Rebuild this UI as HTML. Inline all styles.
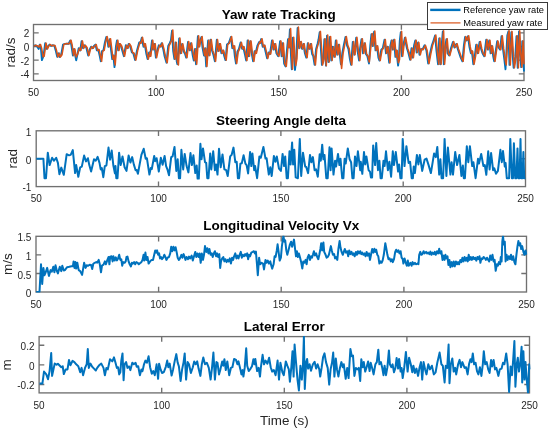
<!DOCTYPE html>
<html><head><meta charset="utf-8"><title>plot</title>
<style>html,body{margin:0;padding:0;background:#fff}svg{display:block}text{font-family:"Liberation Sans",sans-serif;fill:#262626}</style></head>
<body>
<svg width="550" height="429" viewBox="0 0 550 429">
<rect width="550" height="429" fill="#ffffff"/>
<g id="ax1">
<clipPath id="c0"><rect x="33.5" y="24.0" width="491.5" height="57.0"/></clipPath>
<rect x="33.5" y="24.5" width="490.5" height="56.0" fill="none" stroke="#707070" stroke-width="1.35"/>
<text x="33.5" y="96.1" font-size="10" text-anchor="middle">50</text>
<text x="156.1" y="96.1" font-size="10" text-anchor="middle">100</text>
<text x="278.8" y="96.1" font-size="10" text-anchor="middle">150</text>
<text x="401.4" y="96.1" font-size="10" text-anchor="middle">200</text>
<text x="524.0" y="96.1" font-size="10" text-anchor="middle">250</text>
<text x="29.4" y="37.2" font-size="10" text-anchor="end">2</text>
<text x="29.4" y="50.9" font-size="10" text-anchor="end">0</text>
<text x="29.4" y="64.5" font-size="10" text-anchor="end">-2</text>
<text x="29.4" y="78.2" font-size="10" text-anchor="end">-4</text>
<path d="M156.1,80.5v-5.2M156.1,24.5v5.2M278.8,80.5v-5.2M278.8,24.5v5.2M401.4,80.5v-5.2M401.4,24.5v5.2M33.5,32.8h5.2M524.0,32.8h-5.2M33.5,46.47h5.2M524.0,46.47h-5.2M33.5,60.13h5.2M524.0,60.13h-5.2M33.5,73.8h5.2M524.0,73.8h-5.2" stroke="#707070" stroke-width="1.35" fill="none"/>
<polyline clip-path="url(#c0)" points="33.6,46.4 35.1,45.3 36.8,46.0 38.7,48.9 39.7,44.6 40.9,48.2 41.9,60.1 43.5,56.2 45.2,43.2 46.7,48.9 48.2,46.0 49.6,44.6 51.1,46.0 52.5,45.3 54.3,45.6 55.7,50.4 57.2,56.9 58.6,53.3 59.8,56.9 61.2,54.7 63.0,44.6 64.9,43.9 66.8,43.7 68.5,43.9 70.3,40.5 71.4,45.3 72.9,55.5 74.0,48.9 75.5,56.9 76.2,60.4 78.7,48.2 80.2,50.4 81.6,41.2 83.1,48.2 84.5,45.3 86.3,47.5 88.2,55.5 89.6,49.6 91.1,46.7 92.5,48.2 94.0,46.0 95.4,44.6 96.9,50.4 98.3,49.6 99.8,56.2 100.8,61.3 102.0,51.1 103.4,50.4 104.9,42.5 106.3,37.0 107.8,42.5 108.3,46.7 109.8,39.1 111.2,51.1 112.2,59.1 113.3,55.5 114.5,67.1 115.9,46.7 117.0,40.5 118.2,50.4 119.5,43.9 121.0,46.0 122.4,51.1 123.9,56.2 125.8,45.3 127.2,48.2 128.7,43.9 130.1,46.0 131.9,52.5 133.3,53.3 135.1,60.1 137.0,50.4 139.2,42.5 140.3,43.2 141.8,37.7 143.5,46.7 144.7,43.9 146.4,54.0 147.6,59.1 149.1,52.5 150.1,56.2 152.0,40.5 153.0,49.6 154.4,43.9 155.9,57.6 157.3,50.4 158.8,45.3 160.2,46.7 161.7,43.2 163.2,48.9 164.6,56.2 166.5,62.7 168.2,46.0 169.7,43.2 170.9,40.5 172.0,30.8 173.2,51.1 174.4,59.1 175.5,42.5 176.7,61.3 177.4,64.2 179.2,38.4 180.6,53.3 182.1,43.9 183.5,51.1 185.1,54.0 186.2,57.6 188.0,41.9 189.4,50.4 190.9,43.2 192.6,54.7 193.8,60.5 195.0,48.9 196.0,64.2 197.9,36.3 198.9,46.7 199.9,41.2 201.4,37.0 202.5,47.5 204.0,55.5 205.1,48.2 206.2,66.4 208.1,40.5 209.1,55.5 210.5,39.8 212.0,50.4 213.4,54.7 214.9,61.3 216.8,39.8 218.2,51.1 219.7,43.9 221.4,53.3 222.9,50.4 224.3,56.2 225.5,60.1 227.0,44.6 228.7,43.2 230.9,37.0 232.3,48.2 233.8,46.0 234.8,56.2 236.0,63.5 237.4,51.8 238.9,48.9 240.6,42.5 242.1,48.9 243.2,46.7 245.0,54.7 246.2,60.5 247.6,40.5 248.8,56.2 250.2,41.2 251.7,53.3 253.1,61.3 254.6,51.1 255.6,53.3 257.5,45.3 259.2,41.9 259.8,43.2 261.2,39.1 262.7,46.7 264.1,45.3 265.6,51.8 267.1,58.4 268.5,52.5 270.0,54.0 272.0,40.5 273.4,49.6 274.9,43.9 276.4,53.3 278.2,56.2 280.1,41.2 281.6,56.2 282.6,43.2 284.1,63.5 285.5,66.4 287.0,49.6 288.0,39.1 288.9,47.5 289.9,29.4 290.9,54.0 291.8,69.3 292.9,37.7 293.8,53.3 295.0,70.0 296.1,59.1 297.6,28.0 299.1,48.2 300.5,41.9 302.0,48.9 303.4,43.9 304.9,53.3 306.3,57.6 307.8,43.2 309.2,48.9 310.7,43.9 312.1,54.0 313.2,56.2 314.6,64.9 316.1,48.9 317.5,43.9 318.5,39.8 319.7,32.2 320.9,48.9 321.9,64.9 323.3,59.1 324.4,39.1 326.0,65.6 327.0,35.6 328.4,62.0 329.9,37.0 331.3,60.5 332.8,46.7 333.3,53.3 334.3,56.9 335.8,40.5 337.2,54.7 338.7,44.6 340.9,64.2 342.3,53.3 343.8,45.3 345.5,37.0 347.0,45.3 348.4,48.9 349.9,59.1 351.1,64.9 352.8,41.9 354.3,54.7 356.2,37.7 357.6,51.1 359.1,60.5 360.1,48.2 361.5,39.1 363.0,53.3 364.4,43.2 365.9,54.0 367.4,56.2 369.0,63.5 370.3,45.3 371.4,34.3 372.6,46.0 374.1,31.8 375.5,50.4 377.0,46.0 378.4,57.6 379.4,60.5 381.3,49.6 382.8,48.2 384.5,39.8 386.0,53.3 387.4,46.7 389.2,62.7 390.3,46.0 391.5,40.5 392.5,49.6 394.0,39.8 395.4,56.9 396.4,50.4 398.1,65.6 398.8,59.8 399.8,40.5 400.8,32.2 402.0,56.2 403.1,46.0 404.9,37.7 406.9,48.2 408.3,52.5 410.1,59.8 411.5,48.2 412.7,57.6 414.1,45.3 415.3,40.5 416.6,52.5 418.1,42.5 419.5,54.7 421.0,48.9 422.4,49.6 424.6,45.3 426.4,50.4 428.2,63.5 430.1,53.3 431.9,45.3 433.3,41.2 435.1,35.6 436.5,51.1 438.0,64.2 439.2,38.4 440.3,64.2 441.8,43.9 442.8,31.5 443.8,64.2 445.3,46.7 446.4,39.1 447.6,53.3 449.1,55.5 450.8,48.9 453.0,41.9 454.4,47.5 456.3,43.9 457.8,48.9 459.2,53.3 460.7,57.6 462.4,61.3 463.9,45.3 465.1,37.0 466.5,40.5 468.0,36.3 469.4,46.7 470.9,53.3 471.9,51.1 473.3,64.2 474.8,56.2 476.2,44.6 477.7,53.3 479.6,41.9 481.1,48.9 482.5,53.3 484.2,56.2 486.2,39.8 487.7,49.6 489.2,40.5 490.6,53.3 491.8,46.0 493.2,56.2 494.2,61.3 495.7,51.1 497.2,41.2 498.6,47.5 500.1,49.6 501.5,36.3 503.0,48.9 504.4,59.8 505.5,69.3 507.3,35.6 508.4,31.5 509.5,64.9 511.3,32.2 512.4,51.1 513.6,67.8 515.3,56.9 516.5,36.3 517.7,67.8 519.0,31.5 520.0,54.0 521.2,67.1 522.3,41.2 524.0,71.5 524.0,71.5" fill="none" stroke="#0072BD" stroke-width="1.9" stroke-linejoin="round" stroke-linecap="butt"/>
<polyline clip-path="url(#c0)" points="33.6,46.4 35.8,45.3 37.6,46.0 39.0,47.0 40.5,44.5 41.6,48.2 43.1,56.9 44.2,56.2 46.0,43.1 47.5,48.9 48.9,46.0 50.4,44.5 51.8,46.0 53.3,45.3 55.0,45.6 56.5,50.4 57.9,56.9 59.4,53.3 60.5,56.9 62.0,54.7 63.8,44.5 65.6,43.8 67.5,43.5 69.3,43.8 71.0,40.2 72.2,45.3 73.6,55.5 74.8,48.9 76.2,56.9 77.7,54.0 79.5,48.2 80.9,50.4 82.4,40.9 83.8,48.2 85.3,45.3 87.0,47.5 88.9,55.5 90.4,49.6 91.8,46.7 93.3,48.2 94.7,46.0 96.2,44.5 97.6,50.4 99.1,49.6 100.5,56.2 101.6,61.3 102.7,51.1 104.2,50.4 105.6,42.4 107.1,36.5 108.5,42.4 109.1,46.7 110.5,38.7 112.0,51.1 113.0,59.1 114.0,55.5 115.2,64.9 116.6,46.7 117.8,40.2 119.0,50.4 120.3,43.8 121.7,46.0 123.2,51.1 124.6,56.2 126.5,45.3 128.0,48.2 129.4,43.8 130.9,46.0 132.6,52.5 134.1,53.3 135.8,60.1 137.7,50.4 139.9,42.4 141.1,43.1 142.5,37.3 144.3,46.7 145.4,43.8 147.2,54.0 148.3,59.1 149.8,52.5 150.8,56.2 152.7,40.2 153.7,49.6 155.2,43.8 156.6,57.6 158.1,50.4 159.6,45.3 161.0,46.7 162.4,43.1 163.9,48.9 165.4,56.2 167.2,62.7 169.0,46.0 170.4,43.1 171.6,40.2 172.8,30.0 173.9,51.1 175.1,59.1 176.3,42.4 177.4,61.3 178.4,64.9 179.9,38.0 181.4,53.3 182.8,43.8 184.3,51.1 185.8,54.0 187.0,57.6 188.7,41.6 190.2,50.4 191.6,43.1 193.4,54.7 194.6,60.5 195.7,48.9 196.7,64.2 198.6,35.8 199.6,46.7 200.7,40.9 202.1,36.5 203.3,47.5 204.7,55.5 205.9,48.2 206.9,66.4 208.8,40.2 209.8,55.5 211.3,39.5 212.7,50.4 214.2,54.7 215.6,61.3 217.5,39.5 219.0,51.1 220.4,43.8 222.2,53.3 223.6,50.4 225.1,56.2 226.2,60.1 227.7,44.5 229.4,43.1 231.6,36.5 233.1,48.2 234.6,46.0 235.6,56.2 236.7,63.5 238.2,51.8 239.6,48.9 241.4,42.4 242.8,48.9 244.0,46.7 245.8,54.7 246.9,60.5 248.4,40.2 249.5,56.2 251.0,40.9 252.4,53.3 253.9,61.3 255.3,51.1 256.4,53.3 258.2,45.3 260.0,41.6 260.5,43.1 262.0,38.7 263.4,46.7 264.9,45.3 266.4,51.8 267.8,58.4 269.2,52.5 270.7,54.0 272.8,40.2 274.2,49.6 275.6,43.8 277.1,53.3 279.0,56.2 280.9,40.9 282.4,56.2 283.4,43.1 284.8,63.5 286.3,66.4 287.7,49.6 288.8,38.7 289.6,47.5 290.6,28.6 291.6,54.0 292.5,69.3 293.7,37.3 294.6,53.3 295.7,65.6 296.9,59.1 298.4,27.1 299.8,48.2 301.2,41.6 302.7,48.9 304.2,43.8 305.6,53.3 307.1,57.6 308.5,43.1 310.0,48.9 311.4,43.8 312.9,54.0 313.9,56.2 315.4,64.9 316.8,48.9 318.3,43.8 319.3,39.5 320.4,31.4 321.6,48.9 322.6,64.9 324.1,59.1 325.1,38.7 326.3,65.6 327.7,35.1 329.2,62.0 330.6,36.5 332.1,60.5 333.6,46.7 334.1,53.3 335.1,56.9 336.6,40.2 338.0,54.7 339.4,44.5 341.6,68.5 343.1,53.3 344.6,45.3 346.3,36.5 347.8,45.3 349.2,48.9 350.6,59.1 351.8,64.9 353.6,41.6 355.0,54.7 356.9,37.3 358.4,51.1 359.8,60.5 360.8,48.2 362.3,38.7 363.8,53.3 365.2,43.1 366.6,54.0 368.1,56.2 369.3,62.0 371.0,45.3 372.2,33.6 373.4,46.0 374.8,31.0 376.2,50.4 377.7,46.0 379.2,57.6 380.2,60.5 382.1,49.6 383.5,48.2 385.3,39.5 386.7,53.3 388.2,46.7 389.9,62.7 391.1,46.0 392.2,40.2 393.3,49.6 394.7,39.5 396.2,56.9 397.2,50.4 398.4,62.7 399.5,59.8 400.6,40.2 401.6,31.4 402.7,56.2 403.9,46.0 405.6,37.3 407.6,48.2 409.1,52.5 410.8,59.8 412.3,48.2 413.4,57.6 414.9,45.3 416.1,40.2 417.4,52.5 418.8,42.4 420.3,54.7 421.7,48.9 423.2,49.6 425.4,45.3 427.1,50.4 429.0,63.5 430.9,53.3 432.6,45.3 434.1,40.9 435.8,35.1 437.3,51.1 438.8,64.2 439.9,38.0 441.1,64.2 442.5,43.8 443.6,30.7 444.6,64.2 446.0,46.7 447.2,38.7 448.4,53.3 449.8,55.5 451.6,48.9 453.7,41.6 455.2,47.5 457.1,43.8 458.5,48.9 460.0,53.3 461.4,57.6 463.2,61.3 464.6,45.3 465.8,36.5 467.2,40.2 468.7,35.8 470.2,46.7 471.6,53.3 472.6,51.1 474.1,64.2 475.6,56.2 477.0,44.5 478.4,53.3 480.4,41.6 481.8,48.9 483.2,53.3 485.0,56.2 487.0,39.5 488.4,49.6 489.9,40.2 491.4,53.3 492.5,46.0 494.0,56.2 495.0,61.3 496.4,51.1 497.9,40.9 499.4,47.5 500.8,49.6 502.3,35.8 503.7,48.9 505.2,59.8 506.2,64.9 508.1,35.1 509.1,30.7 510.3,64.9 512.0,31.4 513.2,51.1 514.4,67.8 516.1,56.9 517.2,35.8 518.4,67.8 519.7,30.7 520.8,54.0 521.9,67.1 523.1,40.9 524.0,64.2" fill="none" stroke="#D95319" stroke-width="1.55" stroke-linejoin="round" stroke-linecap="butt"/>
<text x="278.8" y="18.5" font-size="13.5" font-weight="bold" text-anchor="middle" style="fill:#000">Yaw rate Tracking</text>
<text transform="translate(15.2,52.5) rotate(-90)" font-size="13.5" text-anchor="middle">rad/s</text>
</g>
<g id="ax2">
<clipPath id="c1"><rect x="36.2" y="130.3" width="490.3" height="56.79999999999998"/></clipPath>
<rect x="36.2" y="130.8" width="489.3" height="55.8" fill="none" stroke="#707070" stroke-width="1.35"/>
<text x="36.2" y="202.2" font-size="10" text-anchor="middle">50</text>
<text x="158.5" y="202.2" font-size="10" text-anchor="middle">100</text>
<text x="280.9" y="202.2" font-size="10" text-anchor="middle">150</text>
<text x="403.2" y="202.2" font-size="10" text-anchor="middle">200</text>
<text x="525.5" y="202.2" font-size="10" text-anchor="middle">250</text>
<text x="31.3" y="135.6" font-size="10" text-anchor="end">1</text>
<text x="31.3" y="163.5" font-size="10" text-anchor="end">0</text>
<text x="31.3" y="191.4" font-size="10" text-anchor="end">-1</text>
<path d="M158.5,186.6v-5.2M158.5,130.8v5.2M280.9,186.6v-5.2M280.9,130.8v5.2M403.2,186.6v-5.2M403.2,130.8v5.2M36.2,158.7h5.2M525.5,158.7h-5.2" stroke="#707070" stroke-width="1.35" fill="none"/>
<polyline clip-path="url(#c1)" points="36.1,158.8 43.4,158.8 44.5,178.2 46.0,178.2 47.8,152.7 49.6,165.1 52.1,157.8 54.0,160.7 56.2,157.8 57.9,162.9 59.4,174.2 61.3,167.6 63.8,174.8 66.7,154.2 69.0,155.3 70.7,154.9 72.8,150.1 75.1,173.1 76.2,165.1 78.3,176.7 80.2,167.3 81.8,166.6 84.1,155.6 86.0,161.4 87.9,158.2 89.3,165.1 91.1,171.6 94.0,159.3 95.8,160.7 97.6,156.8 99.5,162.9 100.7,169.4 101.8,168.0 103.3,177.2 104.8,166.1 106.4,165.5 108.5,147.6 110.1,159.7 111.7,150.6 113.4,165.8 114.9,173.4 115.5,166.1 116.3,178.2 117.5,178.2 119.1,152.7 120.7,165.1 122.5,156.4 124.6,167.3 126.5,170.9 128.6,155.6 130.4,162.6 132.2,157.1 133.8,164.4 135.6,170.2 136.7,169.9 137.9,173.8 141.4,154.9 143.7,148.8 145.7,158.8 146.9,158.2 149.4,174.6 150.8,168.0 151.8,169.0 154.2,155.9 155.2,161.2 156.6,158.2 158.8,171.6 160.8,157.8 162.6,164.7 164.6,155.9 166.1,166.1 167.6,169.9 169.0,175.3 171.2,157.1 172.6,156.4 174.5,146.9 176.3,170.9 177.7,159.3 178.9,178.2 180.1,178.2 181.4,149.8 183.2,169.4 184.7,153.9 186.6,166.1 188.4,172.4 190.5,153.0 191.9,165.1 193.4,155.3 195.3,173.1 196.7,165.5 197.6,178.6 198.8,178.6 200.4,143.7 201.5,159.3 203.0,148.4 205.0,162.2 206.2,162.9 207.3,178.2 208.5,178.2 210.2,153.4 211.3,169.4 213.2,151.3 214.9,170.2 216.1,164.4 217.5,174.6 219.0,148.8 220.7,167.3 222.5,154.5 224.4,169.4 226.2,170.2 227.7,176.0 230.2,156.4 231.6,154.9 233.5,147.6 235.3,162.2 236.7,161.8 237.9,178.2 239.1,178.2 240.4,163.6 241.8,163.2 243.6,155.3 245.4,163.6 246.6,165.1 248.1,173.4 250.1,152.0 251.3,166.1 252.4,153.4 254.2,170.2 255.1,166.1 257.1,178.2 259.4,156.4 260.8,157.8 263.4,146.9 265.5,158.6 266.6,158.2 268.8,174.6 270.3,167.3 271.7,176.0 273.9,155.9 275.4,161.8 276.8,156.4 279.0,168.7 280.9,170.9 282.6,153.9 284.1,166.1 285.2,156.4 286.7,178.2 287.9,178.2 289.5,151.3 290.6,164.4 292.1,142.6 293.1,164.4 294.3,149.8 295.7,177.4 297.9,178.2 299.8,138.9 301.2,176.0 303.0,152.7 305.2,166.6 306.2,167.0 308.1,173.1 310.0,154.9 311.4,162.2 312.9,157.1 314.6,170.2 316.1,169.4 317.8,176.7 319.7,154.2 320.8,160.7 322.2,144.7 323.4,159.3 324.5,154.9 326.3,178.2 327.7,178.2 329.5,147.2 330.6,170.2 331.6,148.4 333.5,174.6 335.1,160.7 336.1,166.6 338.0,153.9 339.4,165.1 340.5,158.8 342.2,178.2 343.4,178.2 344.6,158.8 345.7,163.6 347.8,148.4 349.6,159.3 351.1,162.2 352.4,178.2 353.6,178.2 355.0,156.4 356.5,166.1 357.9,151.3 360.2,170.2 360.8,161.8 362.3,173.8 364.0,152.0 365.2,164.4 366.4,156.4 368.6,170.2 370.0,171.6 370.9,177.4 372.1,177.4 373.2,145.4 375.1,165.1 376.2,143.0 378.0,170.2 379.4,160.7 380.6,178.2 381.8,178.2 383.5,160.7 384.6,166.1 386.0,151.3 387.9,170.2 389.4,161.8 391.1,176.7 392.8,151.3 394.0,165.1 395.8,152.0 398.1,171.6 399.1,164.4 400.4,178.2 401.6,178.2 402.7,138.9 404.5,166.1 406.4,146.2 408.6,162.9 410.1,161.8 411.7,178.2 412.9,178.2 413.7,166.6 414.9,173.1 416.9,154.9 418.4,164.4 419.8,154.9 422.2,170.9 424.6,159.7 426.5,158.6 428.6,165.1 430.9,173.1 434.1,153.4 435.8,157.1 437.3,146.9 439.2,174.6 440.4,159.3 441.6,178.2 443.1,178.2 444.6,138.9 446.4,176.0 447.9,147.6 450.4,174.6 451.6,162.2 453.0,174.6 455.2,152.0 457.1,165.1 459.4,154.9 461.4,176.0 462.9,165.5 463.8,178.2 464.9,178.2 466.8,146.2 468.3,162.2 469.9,146.2 472.2,166.1 473.4,162.2 475.6,178.2 478.0,158.8 479.0,163.6 481.2,153.9 483.4,166.1 484.8,165.1 486.3,174.8 488.2,151.3 489.6,169.4 491.1,153.0 493.1,170.2 494.3,168.4 496.0,173.8 497.9,170.9 500.4,149.8 501.8,162.2 503.0,151.0 504.8,166.6 505.6,162.9 506.8,178.2 509.1,178.2 510.3,138.9 511.9,178.2 513.0,178.2 513.9,143.3 515.2,178.2 516.4,178.2 517.5,148.4 518.4,178.2 519.6,178.2 520.5,138.9 521.3,178.2 522.5,178.2 523.4,152.0 524.2,178.2 525.4,178.2" fill="none" stroke="#0072BD" stroke-width="2.0" stroke-linejoin="round" stroke-linecap="butt"/>
<text x="280.9" y="125.0" font-size="13.5" font-weight="bold" text-anchor="middle" style="fill:#000">Steering Angle delta</text>
<text transform="translate(16.9,158.7) rotate(-90)" font-size="13.5" text-anchor="middle">rad</text>
</g>
<g id="ax3">
<clipPath id="c2"><rect x="36.0" y="235.8" width="491.5" height="56.69999999999999"/></clipPath>
<rect x="36.0" y="236.3" width="490.5" height="55.7" fill="none" stroke="#707070" stroke-width="1.35"/>
<text x="36.0" y="307.6" font-size="10" text-anchor="middle">50</text>
<text x="158.6" y="307.6" font-size="10" text-anchor="middle">100</text>
<text x="281.2" y="307.6" font-size="10" text-anchor="middle">150</text>
<text x="403.9" y="307.6" font-size="10" text-anchor="middle">200</text>
<text x="526.5" y="307.6" font-size="10" text-anchor="middle">250</text>
<text x="31.3" y="241.3" font-size="10" text-anchor="end">1.5</text>
<text x="31.3" y="259.9" font-size="10" text-anchor="end">1</text>
<text x="31.3" y="278.5" font-size="10" text-anchor="end">0.5</text>
<text x="31.3" y="297.0" font-size="10" text-anchor="end">0</text>
<path d="M158.6,292.0v-5.2M158.6,236.3v5.2M281.2,292.0v-5.2M281.2,236.3v5.2M403.9,292.0v-5.2M403.9,236.3v5.2M36.0,254.9h5.2M526.5,254.9h-5.2M36.0,273.5h5.2M526.5,273.5h-5.2" stroke="#707070" stroke-width="1.35" fill="none"/>
<polyline clip-path="url(#c2)" points="36.1,291.9 39.5,291.9 41.0,264.3 42.2,283.9 43.4,267.9 44.5,275.2 45.7,272.3 47.2,267.9 48.9,275.9 50.6,270.1 51.8,271.6 53.3,266.8 54.4,272.3 55.5,265.3 56.9,271.1 57.9,273.4 59.8,266.8 61.3,271.1 62.3,265.7 63.8,270.5 64.9,270.1 67.1,267.2 69.3,266.8 71.5,266.2 72.9,266.2 73.6,261.4 74.5,267.9 75.4,262.1 76.2,268.6 77.3,262.8 78.7,270.1 80.2,271.1 82.1,274.9 84.1,262.8 85.6,267.9 86.7,265.3 88.2,265.7 89.6,264.7 91.1,265.0 92.2,269.1 93.3,263.8 94.7,262.8 96.2,262.1 97.2,262.8 98.7,259.9 99.8,264.3 101.0,272.3 102.0,265.7 103.5,264.7 104.9,261.4 105.9,264.3 107.4,259.9 108.5,257.0 109.4,264.3 110.2,256.6 111.5,256.3 112.6,261.4 113.4,256.3 114.6,260.6 115.8,257.4 116.9,260.4 118.1,258.4 119.2,254.8 120.3,259.9 121.3,259.2 122.2,265.7 123.2,262.1 124.6,262.8 125.7,261.4 126.5,257.0 127.5,256.6 128.6,261.4 129.7,264.3 130.9,266.4 131.9,262.8 132.9,263.6 134.1,262.1 135.2,264.3 136.3,262.1 137.7,262.8 138.8,264.3 139.9,263.2 141.4,262.1 142.5,259.9 143.6,254.8 144.3,260.6 145.4,252.6 146.4,259.9 147.5,257.0 148.6,263.6 150.1,261.4 151.6,259.9 153.0,259.9 154.2,254.8 155.2,250.4 156.2,252.6 157.1,250.4 158.1,254.8 159.1,253.4 160.0,258.4 161.0,257.0 162.0,259.2 163.2,257.7 164.3,254.8 165.4,257.0 166.4,259.9 167.6,257.7 169.0,257.0 170.2,253.4 171.2,246.8 172.2,251.2 173.4,246.8 174.5,250.4 175.6,247.2 176.6,251.9 177.7,257.7 178.9,259.9 179.9,258.4 181.4,254.8 182.4,257.7 183.6,254.1 184.4,256.3 185.5,259.9 186.6,257.0 188.0,259.2 189.0,256.6 190.2,258.4 191.6,255.6 192.8,260.6 193.8,257.0 195.3,251.9 196.3,257.0 197.4,253.4 198.6,257.0 199.6,253.4 200.7,262.8 201.8,253.4 203.0,259.9 204.0,254.8 205.0,246.1 206.2,251.9 207.3,248.3 208.4,253.4 209.4,249.0 210.6,254.8 211.7,253.4 212.7,257.0 213.8,253.4 214.9,251.2 216.1,256.3 217.1,253.4 218.1,257.0 219.3,254.1 220.2,267.9 221.0,261.4 222.2,258.4 223.3,257.0 224.4,261.4 225.4,259.2 226.6,262.1 227.7,259.9 228.7,261.4 229.8,258.4 230.9,263.6 232.1,257.7 233.1,259.9 234.1,256.3 235.3,253.4 236.4,258.4 237.4,255.6 238.5,258.4 239.6,254.8 240.8,251.9 241.8,257.7 242.8,254.8 244.0,256.3 245.2,254.1 246.2,255.6 247.2,253.4 248.1,259.2 249.1,254.8 250.1,256.3 251.3,252.6 252.7,251.9 253.9,251.2 254.9,253.4 255.9,251.6 256.8,262.1 257.8,275.2 259.1,257.7 260.1,264.3 261.6,262.8 263.0,263.6 264.0,269.4 265.5,259.9 266.6,262.8 267.8,260.6 269.0,263.6 270.3,261.4 271.3,265.7 272.2,268.6 273.6,264.3 274.6,256.3 275.6,257.0 276.8,250.4 277.6,244.3 278.6,251.9 279.7,260.6 280.9,257.7 281.9,246.1 283.4,235.9 284.4,241.7 285.2,240.3 286.3,250.4 287.3,254.8 288.8,249.0 289.9,244.6 291.1,241.7 292.1,246.8 293.1,243.2 294.0,239.6 295.0,248.3 296.0,256.3 296.9,251.2 297.9,257.0 298.9,253.4 300.1,257.7 301.0,261.4 302.3,268.6 303.3,261.4 304.4,262.8 305.6,259.9 306.6,264.3 307.6,257.7 308.8,254.8 310.0,259.9 311.0,256.3 312.0,257.7 312.9,254.8 313.9,251.2 314.9,255.6 316.1,253.4 317.2,257.0 318.3,259.2 319.3,254.8 320.4,249.0 321.2,243.2 322.2,250.4 323.4,242.4 324.2,251.9 325.6,254.8 326.6,257.7 327.7,257.0 328.9,254.8 329.9,250.4 330.9,246.1 331.8,250.4 332.9,254.8 334.1,254.1 335.1,258.4 336.1,257.0 337.3,259.9 338.4,249.0 339.6,241.0 340.5,247.6 341.6,251.9 342.8,254.8 343.8,251.9 344.8,249.0 346.0,252.6 347.2,251.2 348.2,256.3 349.2,250.4 350.4,254.1 351.5,251.9 352.6,254.8 353.6,253.4 354.7,256.3 355.9,251.9 356.9,254.8 357.9,251.2 359.1,253.4 360.2,251.2 361.3,254.1 362.3,252.6 363.4,254.8 364.6,253.4 365.6,256.3 366.6,251.9 367.8,255.6 369.0,253.4 370.0,259.9 371.0,254.8 372.2,249.0 373.4,252.6 374.4,248.7 375.4,251.9 376.2,249.7 377.3,254.8 378.3,256.3 379.4,263.6 380.6,261.4 381.6,262.8 382.6,260.6 383.8,254.8 385.3,243.2 386.4,249.0 387.4,254.8 388.5,259.2 389.6,258.4 390.8,261.4 391.8,259.2 392.8,262.1 394.0,259.2 395.2,251.9 396.2,249.7 397.2,251.9 398.4,250.4 399.5,253.4 400.6,251.2 401.6,257.7 402.7,259.2 403.4,263.6 404.5,258.4 405.6,262.1 406.8,265.7 407.8,260.6 408.8,265.7 410.5,262.8 411.6,265.7 412.6,262.1 413.7,264.3 414.9,262.8 415.9,264.3 417.4,263.6 418.4,264.3 419.2,254.8 420.3,251.9 421.3,254.8 422.4,254.1 423.6,251.2 424.6,253.4 426.1,251.9 427.1,253.4 428.3,252.6 429.4,254.1 430.4,251.6 431.5,254.8 432.6,252.6 433.8,254.1 434.8,251.9 435.8,254.8 437.0,251.2 438.2,253.4 439.2,248.7 440.2,253.4 441.4,251.2 442.5,259.9 443.6,255.6 444.6,259.9 445.4,254.8 446.4,258.4 447.5,256.3 448.4,265.0 449.4,259.9 450.4,267.2 451.6,262.1 452.7,266.4 453.7,261.4 454.8,266.4 455.9,261.4 457.1,264.3 458.1,262.1 459.1,264.3 460.3,259.9 461.4,262.1 462.4,257.7 463.5,261.4 464.6,257.0 465.8,260.6 466.8,257.7 467.8,261.4 468.7,254.8 469.7,259.9 470.8,257.0 471.9,259.9 473.1,257.0 474.1,259.2 475.1,257.7 476.3,260.6 477.4,257.0 478.4,259.2 479.5,256.3 480.4,262.8 481.4,258.4 482.4,259.2 483.6,257.0 485.0,258.4 485.8,259.9 487.0,257.7 488.2,259.9 489.2,261.4 490.2,255.6 491.4,259.9 492.5,254.8 493.6,261.4 494.6,259.9 495.7,270.8 496.9,264.3 497.9,265.7 498.9,262.1 500.1,264.3 500.8,257.0 501.6,261.4 502.3,241.7 503.0,236.2 503.9,244.6 504.8,241.7 505.6,261.4 506.6,254.8 507.6,259.9 508.8,256.3 510.0,259.2 511.0,254.8 512.0,259.9 513.2,256.3 514.4,262.1 515.4,264.3 516.4,254.8 517.5,246.1 518.4,241.0 519.3,245.4 520.2,243.2 521.2,249.0 522.2,246.1 523.4,251.9 524.5,254.8 525.5,250.4 526.3,254.8" fill="none" stroke="#0072BD" stroke-width="2.0" stroke-linejoin="round" stroke-linecap="butt"/>
<text x="281.2" y="230.0" font-size="13.5" font-weight="bold" text-anchor="middle" style="fill:#000">Longitudinal Velocity Vx</text>
<text transform="translate(11.7,264.1) rotate(-90)" font-size="13.5" text-anchor="middle">m/s</text>
</g>
<g id="ax4">
<clipPath id="c3"><rect x="39.1" y="336.1" width="491.4" height="57.299999999999955"/></clipPath>
<rect x="39.1" y="336.6" width="490.4" height="56.3" fill="none" stroke="#707070" stroke-width="1.35"/>
<text x="39.1" y="408.5" font-size="10" text-anchor="middle">50</text>
<text x="161.7" y="408.5" font-size="10" text-anchor="middle">100</text>
<text x="284.3" y="408.5" font-size="10" text-anchor="middle">150</text>
<text x="406.9" y="408.5" font-size="10" text-anchor="middle">200</text>
<text x="529.5" y="408.5" font-size="10" text-anchor="middle">250</text>
<text x="34.5" y="349.8" font-size="10" text-anchor="end">0.2</text>
<text x="34.5" y="369.5" font-size="10" text-anchor="end">0</text>
<text x="34.5" y="389.1" font-size="10" text-anchor="end">-0.2</text>
<path d="M161.7,392.9v-5.2M161.7,336.6v5.2M284.3,392.9v-5.2M284.3,336.6v5.2M406.9,392.9v-5.2M406.9,336.6v5.2M39.1,345.2h5.2M529.5,345.2h-5.2M39.1,364.85h5.2M529.5,364.85h-5.2M39.1,384.5h5.2M529.5,384.5h-5.2" stroke="#707070" stroke-width="1.35" fill="none"/>
<polyline clip-path="url(#c3)" points="39.5,383.6 42.4,383.6 44.0,371.6 46.3,374.4 48.0,379.2 49.6,371.1 51.2,353.1 52.1,375.9 54.7,363.6 56.5,364.7 57.9,363.8 59.8,365.7 61.3,367.2 62.7,366.2 63.8,374.0 65.6,369.6 67.5,369.4 69.0,359.9 70.4,365.3 72.5,360.9 74.4,362.1 76.2,364.3 78.3,366.2 80.2,372.3 81.6,367.9 83.1,375.2 85.0,367.9 86.7,364.3 87.8,349.0 88.8,367.9 90.4,363.6 92.2,366.8 94.0,368.6 95.8,370.5 97.2,367.9 99.1,365.3 101.3,363.6 103.5,367.9 104.9,375.2 106.4,367.9 107.8,369.4 110.0,359.2 110.8,359.9 112.3,361.4 114.0,357.4 115.5,362.8 116.9,367.9 118.1,367.2 119.2,374.4 120.3,372.3 121.3,360.6 122.5,353.4 123.6,380.3 124.6,364.3 126.1,362.1 127.5,367.9 129.0,366.4 130.4,370.1 132.3,362.8 133.8,364.3 135.6,362.8 136.7,366.8 138.2,366.2 139.9,375.2 141.4,369.4 142.5,371.1 144.0,364.3 145.4,360.6 146.9,362.8 148.6,356.3 150.1,367.2 151.8,373.7 153.3,371.1 154.8,375.2 156.6,364.3 158.1,378.8 159.1,363.8 160.6,369.4 162.0,373.0 163.9,372.0 165.8,366.8 167.2,360.6 168.3,367.2 169.7,363.6 171.6,375.5 173.1,369.4 174.8,360.6 176.3,354.1 177.7,362.8 178.9,366.4 180.6,381.0 182.1,369.4 183.6,362.1 184.7,353.4 186.1,379.6 187.6,362.1 189.0,364.3 190.9,373.0 192.8,367.2 194.2,361.4 195.7,364.3 197.2,361.4 198.6,368.6 200.4,375.9 201.8,364.3 203.3,357.4 205.0,364.3 206.9,362.8 208.8,367.9 210.6,379.6 212.0,367.9 213.4,352.6 214.9,379.6 216.4,362.1 217.5,362.8 219.0,374.4 220.4,369.4 222.2,361.4 223.3,365.7 224.4,359.2 225.8,370.1 227.3,361.4 229.2,375.2 230.9,367.9 232.4,367.2 234.1,358.9 236.0,359.9 237.4,364.3 238.5,361.4 240.4,369.4 241.4,374.4 242.6,370.1 243.4,376.6 244.7,367.9 246.2,348.3 247.2,365.7 248.7,371.1 250.6,368.6 252.0,366.2 253.4,359.2 254.5,364.3 255.3,358.9 257.1,371.1 258.6,367.9 260.0,376.6 260.8,367.9 262.6,354.8 264.0,364.3 265.5,360.6 267.4,363.6 269.1,357.7 270.7,367.2 272.2,371.6 273.9,370.1 275.6,375.2 277.6,360.6 279.0,379.6 280.4,362.8 282.4,372.3 283.8,375.2 285.8,361.4 287.3,365.7 288.8,369.4 289.9,381.7 291.4,366.4 292.5,351.2 293.6,376.6 294.6,344.6 296.0,362.1 297.5,379.6 298.9,390.4 300.4,365.7 301.8,379.6 303.0,364.3 303.9,336.6 304.8,389.0 306.2,362.1 307.1,358.9 308.1,368.6 309.6,364.3 311.0,370.8 312.9,364.3 314.6,361.8 316.1,368.6 317.6,364.3 319.3,369.4 320.2,376.6 321.6,367.9 323.1,357.0 324.5,353.4 326.0,362.1 327.7,367.9 329.2,384.6 330.6,369.4 332.1,362.1 333.2,352.6 334.4,376.6 335.8,358.4 337.0,369.4 338.4,376.6 339.9,367.9 341.4,362.1 342.8,367.2 343.8,364.3 345.7,378.8 347.2,367.9 348.6,378.1 350.4,349.0 351.8,356.3 353.0,355.6 354.4,375.9 355.9,367.9 357.4,369.4 358.8,367.9 360.2,381.0 361.3,359.2 362.7,367.2 363.8,362.1 365.2,371.6 366.4,367.9 368.1,361.4 369.6,371.1 370.7,362.8 372.5,369.4 373.6,374.4 375.4,364.3 376.8,362.1 378.3,349.7 379.4,364.3 380.9,362.1 382.1,367.2 383.5,375.2 384.6,365.7 386.0,375.2 387.4,367.2 388.9,350.4 389.9,364.3 391.4,367.2 392.6,364.3 394.0,372.3 395.4,367.9 396.6,358.0 398.1,368.6 399.1,358.9 400.6,371.6 401.6,367.9 402.7,378.1 404.2,367.9 405.9,351.9 407.6,371.6 409.1,357.7 410.8,364.3 412.3,372.3 413.4,365.7 414.9,373.0 416.4,368.6 418.1,375.9 419.6,367.2 421.0,362.1 422.2,379.6 423.6,362.1 425.1,369.4 426.5,374.4 428.3,364.3 430.0,369.4 431.9,365.7 433.8,374.4 435.6,372.3 437.3,362.8 439.6,352.6 441.4,364.3 442.8,365.7 444.6,382.4 445.7,365.7 447.2,367.9 448.6,344.6 449.5,383.2 450.8,364.3 452.3,358.4 453.7,371.6 455.2,367.9 456.2,374.4 458.1,364.3 459.6,359.9 461.0,367.2 462.4,362.1 464.6,367.9 466.1,367.2 467.6,374.4 469.0,364.3 470.4,359.2 471.6,362.1 472.8,353.4 474.1,364.3 475.6,362.8 477.0,371.1 478.4,374.4 479.9,367.2 481.4,375.9 482.8,364.3 483.8,351.2 485.2,364.3 486.7,362.1 488.2,369.4 489.6,373.0 491.1,359.9 492.2,366.4 493.6,359.9 495.0,369.4 496.4,367.9 498.4,375.9 499.8,369.4 501.6,368.6 503.0,362.8 504.4,364.3 506.2,353.4 507.6,364.3 509.1,391.9 510.6,366.4 512.0,375.2 513.2,359.2 514.4,341.0 515.4,386.8 516.8,363.6 517.8,357.7 519.0,371.6 520.2,364.3 521.6,346.8 522.2,382.4 523.4,351.2 524.5,379.6 525.5,362.1 526.6,378.1 528.0,392.6 529.2,364.3 529.9,369.4" fill="none" stroke="#0072BD" stroke-width="2.0" stroke-linejoin="round" stroke-linecap="butt"/>
<text x="284.3" y="331.3" font-size="13.5" font-weight="bold" text-anchor="middle" style="fill:#000">Lateral Error</text>
<text transform="translate(11.2,364.8) rotate(-90)" font-size="13.5" text-anchor="middle">m</text>
</g>
<text x="284.4" y="425.3" font-size="13.4" text-anchor="middle">Time (s)</text>
<g id="legend">
<rect x="427.5" y="2.5" width="120" height="27" fill="#fff" stroke="#3a3a3a" stroke-width="1"/>
<line x1="430.2" y1="9.9" x2="460.5" y2="9.9" stroke="#0072BD" stroke-width="2.4"/>
<line x1="430.5" y1="22.9" x2="460.5" y2="22.9" stroke="#D95319" stroke-width="1.2"/>
<text x="463.3" y="13.4" font-size="9.3" style="fill:#000">Reference yaw rate</text>
<text x="463.3" y="26.1" font-size="9.3" style="fill:#000">Measured yaw rate</text>
</g>
</svg>
</body></html>
